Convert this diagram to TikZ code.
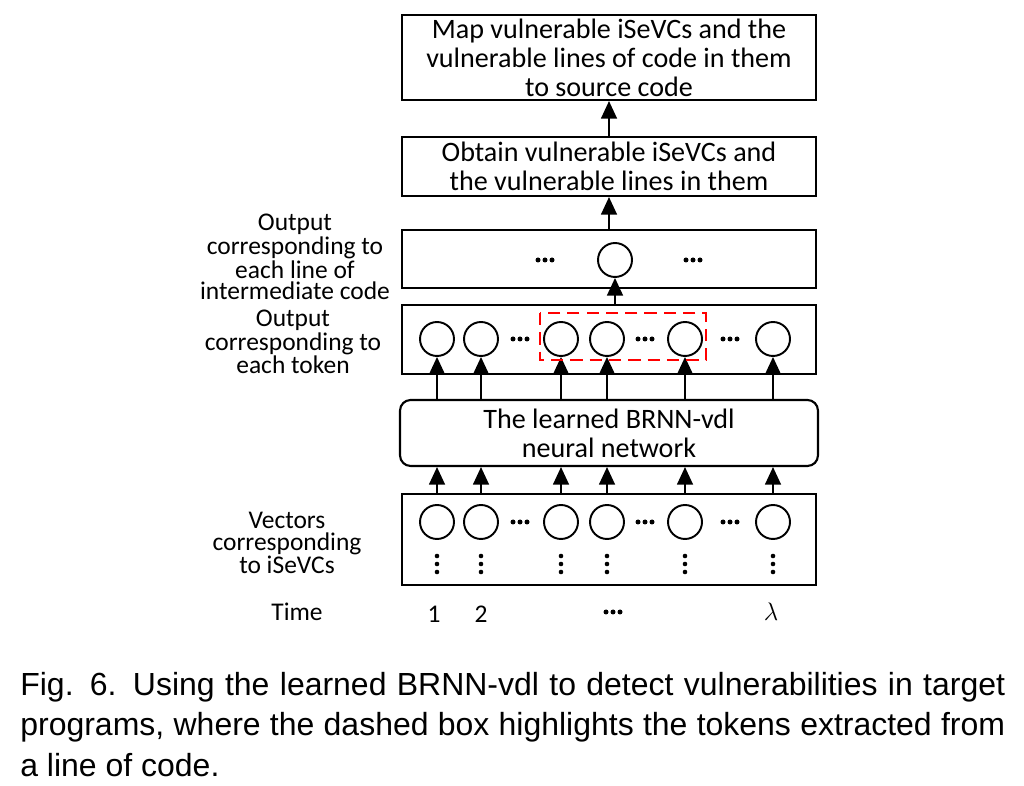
\documentclass[tikz,border=0pt]{standalone}
\usepackage{fontspec}
\setmainfont{Carlito}
\newfontfamily\capfont{Liberation Sans}
\usetikzlibrary{positioning,arrows.meta}
\newcommand\hdots[2]{\foreach \d in {-7,0,7}{\fill (#1+\d,#2) circle (2.5);}}
\newcommand\vdts[2]{\foreach \d in {-8,0,8}{\fill (#1,#2+\d) circle (2.3);}}
\begin{document}
\begin{tikzpicture}[x=0.02cm,y=-0.02cm,
  blk/.style={draw,line width=1.2pt,inner sep=0pt},
  txt/.style={align=center,font=\fontsize{16}{16.5}\selectfont},
  lbl/.style={align=center,font=\fontsize{14.5}{12.3}\selectfont},
  cell/.style={draw,circle,line width=1.1pt,minimum size=0.68cm,inner sep=0pt},
  up/.style={-{Triangle[length=10pt,width=9pt]},line width=1.1pt}]
\useasboundingbox (0,0) rectangle (1024,786);
% boxes
\node[blk,minimum width=8.28cm,minimum height=1.7cm] (map) at (609,57.5) {};
\node[txt] at (map) {Map vulnerable iSeVCs and the\\vulnerable lines of code in them\\to source code};
\node[blk,minimum width=8.28cm,minimum height=1.18cm] (obt) at (609,166.5) {};
\node[txt] at (obt) {Obtain vulnerable iSeVCs and\\the vulnerable lines in them};
\node[blk,minimum width=8.28cm,minimum height=1.16cm] (line) at (609,259) {};
\node[blk,minimum width=8.28cm,minimum height=1.38cm] (tok) at (609,339.5) {};
\node[blk,rounded corners=6pt,minimum width=8.36cm,minimum height=1.32cm] (net) at (609,433) {};
\node[txt] at (net) {The learned BRNN-vdl\\neural network};
\node[blk,minimum width=8.28cm,minimum height=1.82cm] (vec) at (609,539.5) {};
% line output
\node[cell] (c) at (615,260) {};
\hdots{545}{260}
\hdots{693}{260}
% tokens and vectors
\foreach \i/\x in {1/437,2/481,3/561,4/607,5/685,6/773}{
  \node[cell] (t\i) at (\x,339) {};
  \node[cell] (v\i) at (\x,522) {};
  \vdts{\x}{564}
  \draw[up] (v\i |- vec.north) -- (v\i |- net.south);
  \draw[up] (t\i |- net.north) -- (t\i);
}
\foreach \x in {520,645,730}{
  \hdots{\x}{339}
  \hdots{\x}{522}
}
\hdots{613}{612}
\draw[red,dashed,line width=1.5pt,dash pattern=on 7pt off 4pt] (540,313) rectangle (706,360);
% connectors
\draw[up] (c |- tok.north) -- (c);
\draw[up] (line.north) -- (obt.south);
\draw[up] (obt.north) -- (map.south);
% labels
\node[lbl] at (295,257) {Output\\corresponding to\\each line of\\intermediate code};
\node[lbl] at (293,342) {Output\\corresponding to\\each token};
\node[lbl] at (287,543) {Vectors\\corresponding\\to iSeVCs};
\node[lbl] at (297,612) {Time};
\node[lbl] at (434,614) {1};
\node[lbl] at (481,614) {2};
\node[lbl] at (771,612) {$\lambda$};
% caption
\node[align=justify,anchor=north west,text width=19.7cm,inner sep=0pt,
  font=\capfont\fontsize{18.2}{23}\selectfont] at (20,672)
  {Fig. 6. Using the learned BRNN-vdl to detect vulnerabilities in target programs, where the dashed box highlights the tokens extracted from a line of code.};
\end{tikzpicture}
\end{document}
